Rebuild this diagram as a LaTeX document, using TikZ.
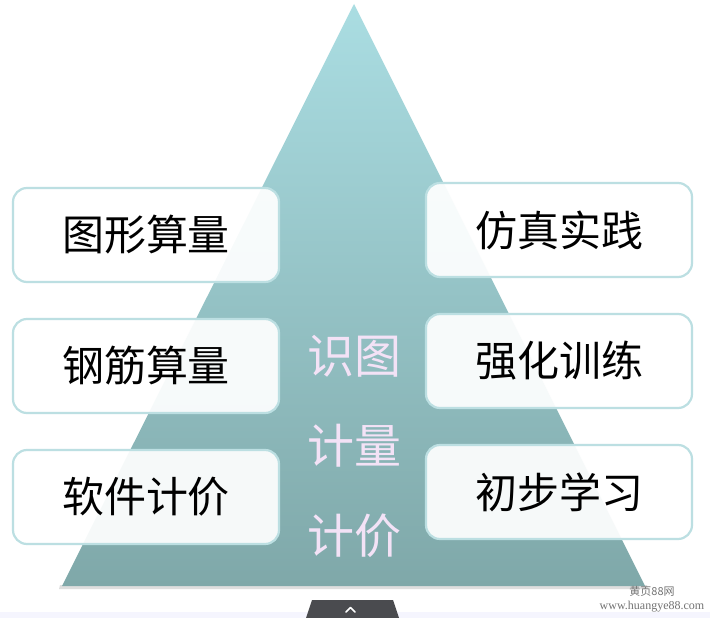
\documentclass[tikz,border=0pt]{standalone}
\usepackage{fontspec}
\setmainfont{Noto Sans CJK SC}
\newfontfamily\wmfont{Liberation Serif}
\newfontfamily\wmcjk{Noto Sans CJK SC}
\definecolor{tritop}{HTML}{AADDE2}
\definecolor{tribot}{HTML}{7FA8A9}
\definecolor{boxline}{HTML}{BCDFE2}
\definecolor{midtext}{HTML}{F3E2F6}
\definecolor{tabgray}{HTML}{4A4B4F}
\tikzset{
  card/.style={draw=boxline, line width=2.2pt, rounded corners=14pt, fill=white, fill opacity=0.93, text opacity=1,
    minimum width=266pt, minimum height=94pt, inner sep=0pt, font=\fontsize{42}{44}\selectfont, text=black},
  midlabel/.style={font=\fontsize{47}{49}\selectfont, text=midtext, inner sep=0pt},
  wm/.style={font=\wmfont\fontsize{12}{13}\selectfont, text=black!55, inner sep=0pt}
}
\begin{document}
\begin{tikzpicture}[x=1pt,y=-1pt]
\useasboundingbox (0,0) rectangle (710,618);
\fill[white] (0,0) rectangle (710,618);
\fill[black!8!blue!4] (0,612) rectangle (710,618);
% triangle shadow
\fill[black!25, opacity=0.5] (60,585) -- (647,585) -- (648,589) -- (59,589) -- cycle;
% triangle
\shade[top color=tritop, bottom color=tribot] (354,4) coordinate (apex) -- (645,586) coordinate (br) -- (62,586) coordinate (bl) -- cycle;
% middle labels
\node[midlabel] (m1) at (354,356) {识图};
\node[midlabel] (m2) at (354,446) {计量};
\node[midlabel] (m3) at (354,536) {计价};
% cards left
\node[card] (l1) at (146,235) {图形算量};
\node[card] (l2) at (146,366) {钢筋算量};
\node[card] (l3) at (146,497) {软件计价};
% cards right
\node[card] (r1) at (559,230) {仿真实践};
\node[card] (r2) at (559,361) {强化训练};
\node[card] (r3) at (559,492) {初步学习};
% bottom tab
\fill[tabgray] (306,618) -- (312,600) coordinate (tabtl) -- (393,600) -- (399,618) -- cycle;
\draw[white, line width=1.6pt, line cap=round, line join=round] (346,612) -- (350.5,607.5) coordinate (caret) -- (355,612);
% watermark
\node[wm, font=\wmcjk\fontsize{11}{12}\selectfont] (w1) at (652,591) {黄页88网};
\node[wm] (w2) at (652,607) {www.huangye88.com};
\end{tikzpicture}
\end{document}
